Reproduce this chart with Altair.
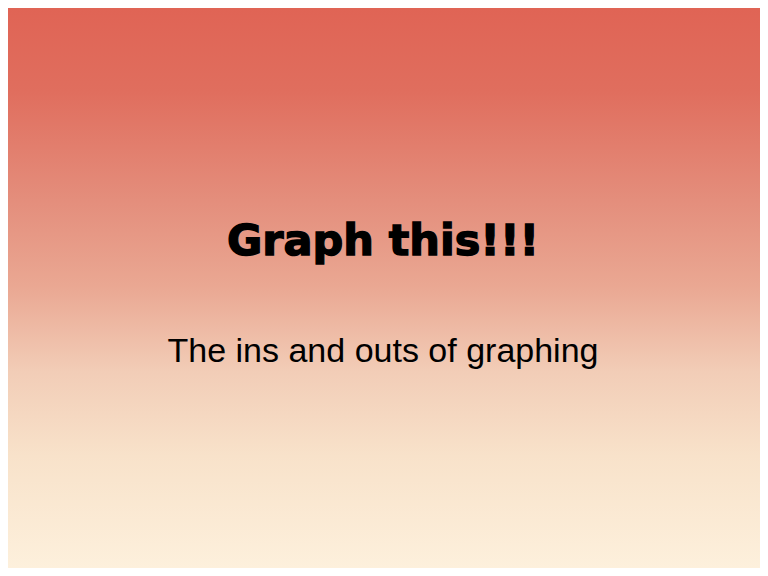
import altair as alt
import pandas as pd

# Text content of the slide
title_text = ["Graph this!!!"]
subtitle_text = ["The ins and outs of graphing"]

W, H = 752, 560

bg_df = pd.DataFrame({"k": [0]})
title_df = pd.DataFrame({"label": title_text})
sub_df = pd.DataFrame({"label": subtitle_text})

grad = alt.Gradient(
    gradient="linear",
    x1=0, x2=0, y1=0, y2=1,
    stops=[
        alt.GradientStop(color="#E06455", offset=0.0),
        alt.GradientStop(color="#E06E5E", offset=0.15),
        alt.GradientStop(color="#E48F7D", offset=0.35),
        alt.GradientStop(color="#EAA893", offset=0.5),
        alt.GradientStop(color="#F2CDB7", offset=0.65),
        alt.GradientStop(color="#F8E2CA", offset=0.8),
        alt.GradientStop(color="#FDF0DC", offset=1.0),
    ],
)

bg = alt.Chart(bg_df).mark_rect(color=grad, strokeWidth=0).encode(
    x=alt.value(0), x2=alt.value(W), y=alt.value(0), y2=alt.value(H)
)

title = alt.Chart(title_df).mark_text(
    font="DejaVu Sans", fontWeight="bold", fontSize=43,
    align="center", baseline="alphabetic", color="#000000",
    stroke="#000000", strokeWidth=1.4,
).encode(text="label:N", x=alt.value(375), y=alt.value(247))

subtitle = alt.Chart(sub_df).mark_text(
    font="Liberation Sans", fontSize=34,
    align="center", baseline="alphabetic", color="#000000",
).encode(text="label:N", x=alt.value(375), y=alt.value(354))

chart = (
    alt.layer(bg, title, subtitle)
    .properties(width=W, height=H, padding=0,
                autosize=alt.AutoSizeParams(type="fit", contains="padding"))
    .configure_view(strokeWidth=0)
)

chart.save("out.html", embed_options={"renderer": "svg", "actions": False})
